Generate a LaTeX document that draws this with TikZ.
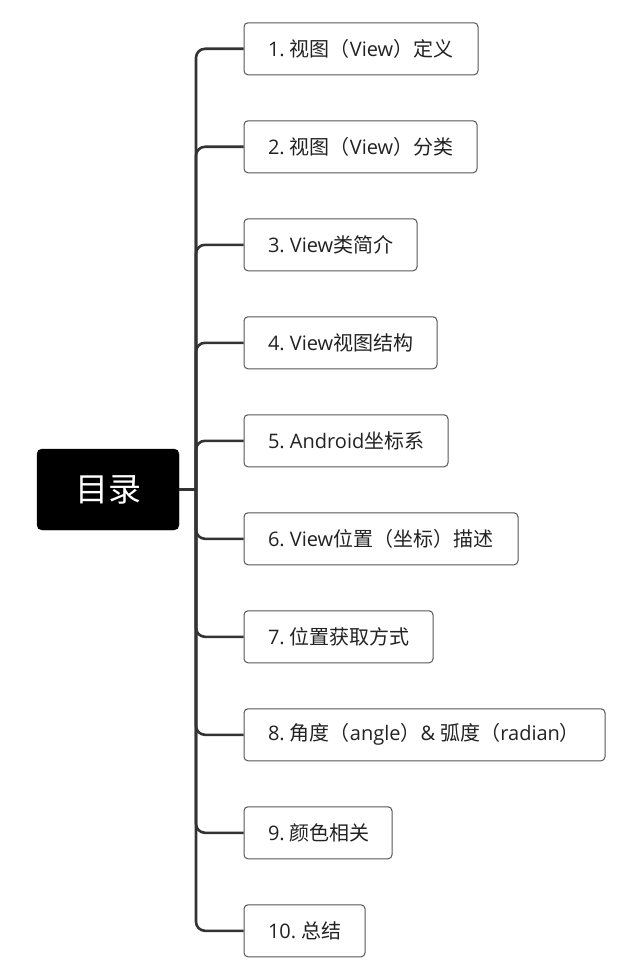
\documentclass[tikz,border=0pt]{standalone}
\usepackage{fontspec}
\setmainfont{Open Sans}
\newfontfamily\cjkf{Noto Sans CJK SC}
\newcommand{\C}[1]{{\cjkf #1}}
\newcommand{\W}[2]{\makebox[#1][l]{#2}}
\frenchspacing
\definecolor{linec}{HTML}{333333}
\definecolor{boxc}{HTML}{555555}
\definecolor{textc}{HTML}{222222}
\begin{document}
\begin{tikzpicture}[x=1pt,y=-1pt,
  item/.style={draw=boxc, line width=1pt, rounded corners=4pt, fill=white,
    minimum height=52pt, anchor=west, text=textc, inner xsep=24pt, inner ysep=0pt,
    font=\fontsize{20}{23}\selectfont},
  rootbox/.style={fill=black, draw=black, rounded corners=5pt, text=white,
    minimum width=142pt, minimum height=81pt, font=\fontsize{33}{36}\selectfont\cjkf},
  conn/.style={draw=linec, line width=2.6pt, rounded corners=9pt}
]
\useasboundingbox (0,0) rectangle (630,968);
\node[rootbox] (root) at (108,489.5) {目录};
\coordinate (j) at (196,489.5);
\node[item] (b1) at (243.5,48.8) {\W{186pt}{1. \C{视图（}View\C{）定义}}};
\node[item] (b2) at (243.5,146.8) {\W{185pt}{2. \C{视图（}View\C{）分类}}};
\node[item] (b3) at (243.5,244.8) {\W{125pt}{3. View\C{类简介}}};
\node[item] (b4) at (243.5,342.8) {\W{145pt}{4. View\C{视图结构}}};
\node[item] (b5) at (243.5,440.8) {\W{156pt}{5. Android\C{坐标系}}};
\node[item] (b6) at (243.5,538.8) {\W{226pt}{6. View\C{位置（坐标）描述}}};
\node[item] (b7) at (243.5,636.8) {\W{141pt}{7. \C{位置获取方式}}};
\node[item] (b8) at (243.5,734.8) {\W{313pt}{8. \C{角度（}angle\C{）}\& \C{弧度（}radian\C{）}}};
\node[item] (b9) at (243.5,832.8) {\W{100pt}{9. \C{颜色相关}}};
\node[item] (b10) at (243.5,930.8) {\W{73pt}{10. \C{总结}}};
\draw[conn, rounded corners=0pt] (root.east) -- (j);
\foreach \b in {b1,b2,b3,b4,b5,b6,b7,b8,b9,b10}
  \draw[conn] (j) |- (\b.west);
\end{tikzpicture}
\end{document}
